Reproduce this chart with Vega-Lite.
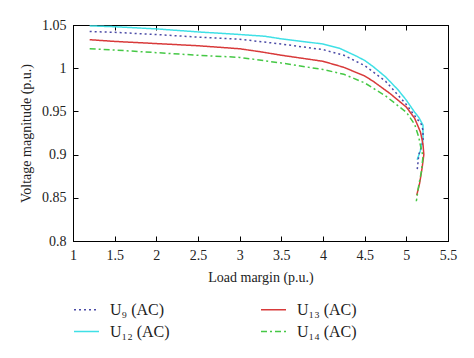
{
  "$schema": "https://vega.github.io/schema/vega-lite/v6.json",
  "width": 375,
  "height": 216,
  "autosize": "none",
  "padding": {"left": 73, "top": 25, "right": 26, "bottom": 117},
  "background": "white",
  "config": {
    "font": "Liberation Serif",
    "view": {"stroke": "black", "strokeWidth": 1},
    "axis": {"labelFont": "Liberation Serif", "titleFont": "Liberation Serif", "labelFontSize": 14, "titleFontSize": 14, "titleFontWeight": "normal", "labelColor": "#222", "titleColor": "#222", "domainColor": "black", "tickColor": "black", "tickSize": -5, "grid": false},
    "legend": {"labelFont": "Liberation Serif", "labelFontSize": 16, "labelColor": "#222"}
  },
  "data": {"values": [
    {"s": "U₁₂ (AC)", "i": 0, "x": 1.2, "y": 1.049},
    {"s": "U₁₂ (AC)", "i": 1, "x": 1.5, "y": 1.048},
    {"s": "U₁₂ (AC)", "i": 2, "x": 2.0, "y": 1.0455},
    {"s": "U₁₂ (AC)", "i": 3, "x": 2.5, "y": 1.042},
    {"s": "U₁₂ (AC)", "i": 4, "x": 3.0, "y": 1.039},
    {"s": "U₁₂ (AC)", "i": 5, "x": 3.3, "y": 1.037},
    {"s": "U₁₂ (AC)", "i": 6, "x": 3.5, "y": 1.034},
    {"s": "U₁₂ (AC)", "i": 7, "x": 4.0, "y": 1.028},
    {"s": "U₁₂ (AC)", "i": 8, "x": 4.2, "y": 1.023},
    {"s": "U₁₂ (AC)", "i": 9, "x": 4.4, "y": 1.014},
    {"s": "U₁₂ (AC)", "i": 10, "x": 4.5, "y": 1.009},
    {"s": "U₁₂ (AC)", "i": 11, "x": 4.6, "y": 1.002},
    {"s": "U₁₂ (AC)", "i": 12, "x": 4.75, "y": 0.99},
    {"s": "U₁₂ (AC)", "i": 13, "x": 4.9, "y": 0.975},
    {"s": "U₁₂ (AC)", "i": 14, "x": 5.0, "y": 0.963},
    {"s": "U₁₂ (AC)", "i": 15, "x": 5.1, "y": 0.949},
    {"s": "U₁₂ (AC)", "i": 16, "x": 5.15, "y": 0.943},
    {"s": "U₁₂ (AC)", "i": 17, "x": 5.2, "y": 0.934},
    {"s": "U₁₂ (AC)", "i": 18, "x": 5.2, "y": 0.917},
    {"s": "U₁₂ (AC)", "i": 19, "x": 5.17, "y": 0.905},
    {"s": "U₁₂ (AC)", "i": 20, "x": 5.13, "y": 0.894},

    {"s": "U₉ (AC)", "i": 0, "x": 1.2, "y": 1.0425},
    {"s": "U₉ (AC)", "i": 1, "x": 1.5, "y": 1.0415},
    {"s": "U₉ (AC)", "i": 2, "x": 2.0, "y": 1.039},
    {"s": "U₉ (AC)", "i": 3, "x": 2.5, "y": 1.036},
    {"s": "U₉ (AC)", "i": 4, "x": 3.0, "y": 1.0335},
    {"s": "U₉ (AC)", "i": 5, "x": 3.5, "y": 1.028},
    {"s": "U₉ (AC)", "i": 6, "x": 4.0, "y": 1.0215},
    {"s": "U₉ (AC)", "i": 7, "x": 4.25, "y": 1.015},
    {"s": "U₉ (AC)", "i": 8, "x": 4.5, "y": 1.003},
    {"s": "U₉ (AC)", "i": 9, "x": 4.75, "y": 0.985},
    {"s": "U₉ (AC)", "i": 10, "x": 5.0, "y": 0.958},
    {"s": "U₉ (AC)", "i": 11, "x": 5.1, "y": 0.945},
    {"s": "U₉ (AC)", "i": 12, "x": 5.18, "y": 0.935},
    {"s": "U₉ (AC)", "i": 13, "x": 5.2, "y": 0.928},
    {"s": "U₉ (AC)", "i": 14, "x": 5.2, "y": 0.915},
    {"s": "U₉ (AC)", "i": 15, "x": 5.15, "y": 0.9},
    {"s": "U₉ (AC)", "i": 16, "x": 5.13, "y": 0.882},

    {"s": "U₁₃ (AC)", "i": 0, "x": 1.2, "y": 1.033},
    {"s": "U₁₃ (AC)", "i": 1, "x": 1.5, "y": 1.031},
    {"s": "U₁₃ (AC)", "i": 2, "x": 2.0, "y": 1.0285},
    {"s": "U₁₃ (AC)", "i": 3, "x": 2.5, "y": 1.026},
    {"s": "U₁₃ (AC)", "i": 4, "x": 3.0, "y": 1.0225},
    {"s": "U₁₃ (AC)", "i": 5, "x": 3.25, "y": 1.019},
    {"s": "U₁₃ (AC)", "i": 6, "x": 3.5, "y": 1.015},
    {"s": "U₁₃ (AC)", "i": 7, "x": 4.0, "y": 1.008},
    {"s": "U₁₃ (AC)", "i": 8, "x": 4.25, "y": 1.001},
    {"s": "U₁₃ (AC)", "i": 9, "x": 4.5, "y": 0.991},
    {"s": "U₁₃ (AC)", "i": 10, "x": 4.6, "y": 0.985},
    {"s": "U₁₃ (AC)", "i": 11, "x": 4.8, "y": 0.971},
    {"s": "U₁₃ (AC)", "i": 12, "x": 5.0, "y": 0.955},
    {"s": "U₁₃ (AC)", "i": 13, "x": 5.1, "y": 0.942},
    {"s": "U₁₃ (AC)", "i": 14, "x": 5.17, "y": 0.926},
    {"s": "U₁₃ (AC)", "i": 15, "x": 5.2, "y": 0.912},
    {"s": "U₁₃ (AC)", "i": 16, "x": 5.21, "y": 0.9},
    {"s": "U₁₃ (AC)", "i": 17, "x": 5.19, "y": 0.885},
    {"s": "U₁₃ (AC)", "i": 18, "x": 5.16, "y": 0.867},
    {"s": "U₁₃ (AC)", "i": 19, "x": 5.125, "y": 0.853},

    {"s": "U₁₄ (AC)", "i": 0, "x": 1.2, "y": 1.0225},
    {"s": "U₁₄ (AC)", "i": 1, "x": 1.5, "y": 1.021},
    {"s": "U₁₄ (AC)", "i": 2, "x": 2.0, "y": 1.018},
    {"s": "U₁₄ (AC)", "i": 3, "x": 2.5, "y": 1.015},
    {"s": "U₁₄ (AC)", "i": 4, "x": 3.0, "y": 1.0125},
    {"s": "U₁₄ (AC)", "i": 5, "x": 3.5, "y": 1.006},
    {"s": "U₁₄ (AC)", "i": 6, "x": 4.0, "y": 0.9985},
    {"s": "U₁₄ (AC)", "i": 7, "x": 4.25, "y": 0.993},
    {"s": "U₁₄ (AC)", "i": 8, "x": 4.5, "y": 0.983},
    {"s": "U₁₄ (AC)", "i": 9, "x": 4.75, "y": 0.968},
    {"s": "U₁₄ (AC)", "i": 10, "x": 5.0, "y": 0.949},
    {"s": "U₁₄ (AC)", "i": 11, "x": 5.1, "y": 0.935},
    {"s": "U₁₄ (AC)", "i": 12, "x": 5.15, "y": 0.92},
    {"s": "U₁₄ (AC)", "i": 13, "x": 5.17, "y": 0.91},
    {"s": "U₁₄ (AC)", "i": 14, "x": 5.2, "y": 0.898},
    {"s": "U₁₄ (AC)", "i": 15, "x": 5.18, "y": 0.88},
    {"s": "U₁₄ (AC)", "i": 16, "x": 5.15, "y": 0.865},
    {"s": "U₁₄ (AC)", "i": 17, "x": 5.12, "y": 0.846}
  ]},
  "layer": [
    {
      "mark": {"type": "line", "strokeWidth": 1.5, "clip": true},
      "encoding": {
        "x": {"field": "x", "type": "quantitative", "scale": {"domain": [1, 5.5], "nice": false, "zero": false}, "axis": {"title": "Load margin (p.u.)", "values": [1, 1.5, 2, 2.5, 3, 3.5, 4, 4.5, 5, 5.5], "format": "~g", "labelPadding": 12, "titlePadding": 8, "labelFlush": false}},
        "y": {"field": "y", "type": "quantitative", "scale": {"domain": [0.8, 1.05], "nice": false, "zero": false}, "axis": {"title": "Voltage magnitude (p.u.)", "values": [0.8, 0.85, 0.9, 0.95, 1, 1.05], "format": "~g", "labelPadding": 12, "titlePadding": 8, "labelFlush": false}},
        "order": {"field": "i", "type": "quantitative"},
        "color": {"field": "s", "type": "nominal", "scale": {"domain": ["U₉ (AC)", "U₁₂ (AC)", "U₁₃ (AC)", "U₁₄ (AC)"], "range": ["#4b4ba6", "#3fe0e6", "#d83a3a", "#45c845"]},
          "legend": {"title": null, "orient": "none", "legendX": 0, "legendY": 271, "columns": 2, "columnPadding": 88, "rowPadding": -6, "symbolType": "stroke", "symbolSize": 625, "symbolStrokeWidth": 1.5, "labelOffset": 10}},
        "strokeDash": {"field": "s", "type": "nominal", "scale": {"domain": ["U₉ (AC)", "U₁₂ (AC)", "U₁₃ (AC)", "U₁₄ (AC)"], "range": [[2, 3], [1, 0], [1, 0], [6, 3, 2, 3]]}, "legend": null}
      }
    },
    {
      "mark": {"type": "line", "opacity": 0},
      "encoding": {
        "x": {"field": "x", "type": "quantitative", "scale": {"domain": [1, 5.5], "nice": false, "zero": false}, "axis": {"orient": "top", "title": null, "labels": false, "values": [1, 1.5, 2, 2.5, 3, 3.5, 4, 4.5, 5, 5.5]}},
        "y": {"field": "y", "type": "quantitative", "scale": {"domain": [0.8, 1.05], "nice": false, "zero": false}, "axis": {"orient": "right", "title": null, "labels": false, "values": [0.8, 0.85, 0.9, 0.95, 1, 1.05]}},
        "detail": {"field": "s"}
      }
    }
  ],
  "resolve": {"axis": {"x": "independent", "y": "independent"}}
}
